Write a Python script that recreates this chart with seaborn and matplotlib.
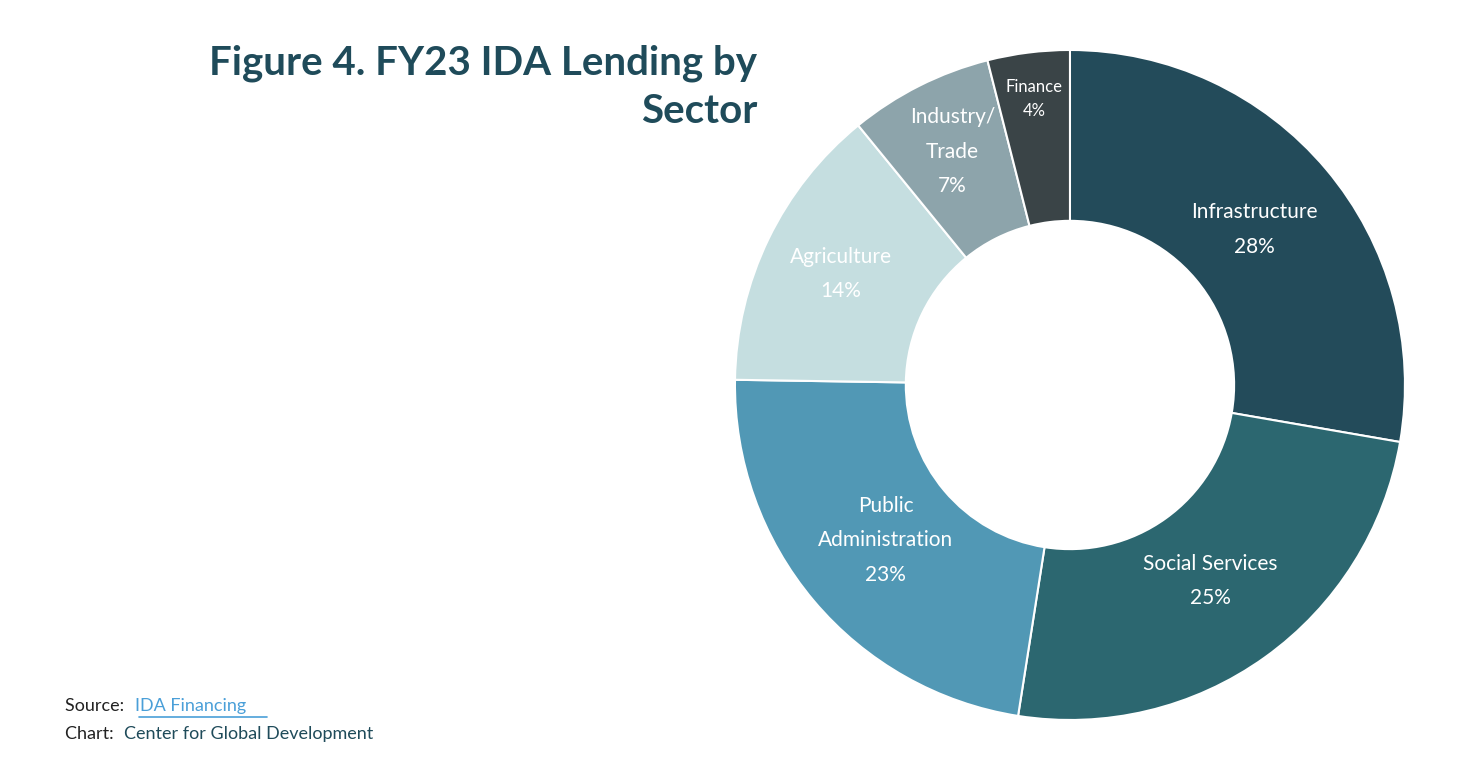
import matplotlib
matplotlib.use("Agg")
import matplotlib.pyplot as plt
import seaborn as sns
import numpy as np

sectors = ["Infrastructure", "Social Services", "Public\nAdministration", "Agriculture", "Industry/\nTrade", "Finance"]
shares = [28, 25, 23, 14, 7, 4]
colors = ["#234B5A", "#2C6770", "#5198B5", "#C5DEE0", "#8DA4AB", "#3A4447"]

sns.set_theme(style="white", font="Lato")
fig = plt.figure(figsize=(14.8, 7.64), dpi=100)
ax = fig.add_axes([0.4966, 0.0576, 0.4527, 0.877])
wedges, _ = ax.pie(shares, colors=sns.color_palette(colors), startangle=90, counterclock=False,
                   radius=1.0, wedgeprops=dict(width=0.51, edgecolor="white", linewidth=1.5))
ax.set_aspect("equal")
ax.set_xlim(-1, 1); ax.set_ylim(-1, 1)

label_r = [0.72, 0.72, 0.72, 0.76, 0.78, 0.86]
fs = [15, 15, 15, 15, 15, 12]
total = sum(shares)
for w, name, v, r, f in zip(wedges, sectors, shares, label_r, fs):
    ang = np.deg2rad((w.theta1 + w.theta2) / 2)
    x, y = r * np.cos(ang), r * np.sin(ang)
    ax.text(x, y, f"{name}\n{v}%", ha="center", va="center", color="white",
            fontsize=f, linespacing=1.9 if f == 15 else 1.6)

fig.text(757 / 1480, 1 - 45 / 764, "Figure 4. FY23 IDA Lending by\nSector", ha="right", va="top",
         fontsize=29, fontweight="bold", color="#1F4B5A", linespacing=1.35)
fig.text(65 / 1480, 1 - 706 / 764, "Source: ", ha="left", va="center", fontsize=13, color="#222222")
fig.text(135 / 1480, 1 - 706 / 764, "IDA Financing", ha="left", va="center", fontsize=13,
         color="#4A9FD8", fontweight="normal")
fig.add_artist(plt.Line2D([139 / 1480, 267 / 1480], [1 - 717 / 764] * 2, color="#4A9FD8", lw=1.2))
fig.text(65 / 1480, 1 - 734 / 764, "Chart: ", ha="left", va="center", fontsize=13, color="#222222")
fig.text(124 / 1480, 1 - 734 / 764, "Center for Global Development", ha="left", va="center",
         fontsize=13, color="#1F4B5A")
fig.savefig("out.png", dpi=100, facecolor="white")
